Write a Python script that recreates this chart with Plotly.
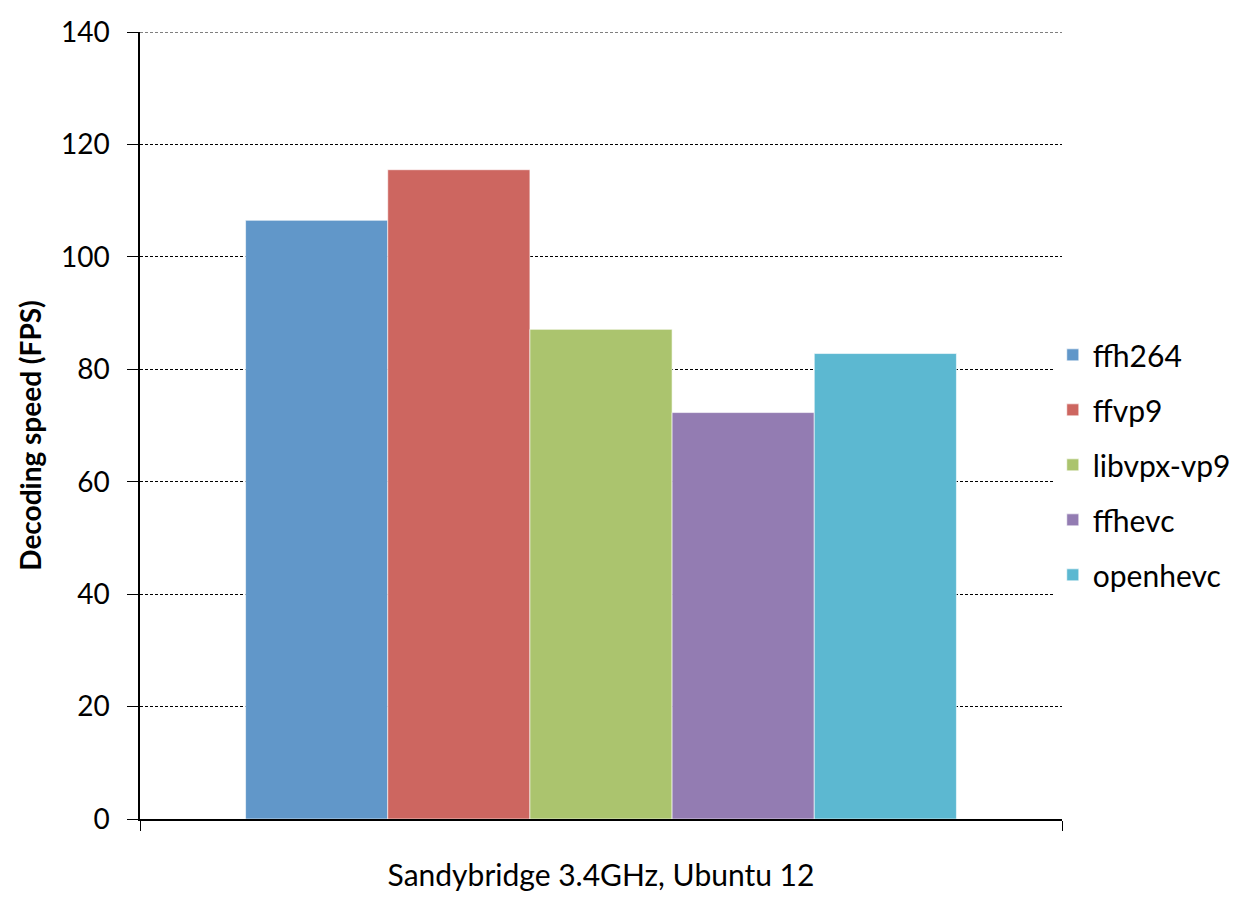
import plotly.graph_objects as go

# decoding speed per decoder, one machine
category = ["Sandybridge 3.4GHz, Ubuntu 12"]
decoders = ["ffh264", "ffvp9", "libvpx-vp9", "ffhevc", "openhevc"]
fps = [106.5, 115.5, 87.1, 72.3, 82.8]
colors = ["#6197C9", "#CD6660", "#ABC46E", "#937CB2", "#5CB8D1"]
y_max = 140

FONT = "Lato, 'Open Sans', sans-serif"

fig = go.Figure()
for name, val, col in zip(decoders, fps, colors):
    fig.add_trace(go.Bar(
        x=category, y=[val], name=name, legendgroup=name,
        marker=dict(color=col, line=dict(color="rgba(255,255,255,0.6)", width=1)),
    ))

# top gridline gets dropped at the plot edge, draw it by hand
fig.add_shape(type="line", xref="paper", x0=0, x1=1, yref="y", y0=y_max, y1=y_max,
              line=dict(color="black", width=1, dash="3px,2px"), layer="below")

fig.add_annotation(
    text="<b>Decoding speed (FPS)</b>", textangle=-90,
    xref="paper", x=0, xshift=-110, xanchor="center",
    yref="paper", y=0.487, yanchor="middle",
    showarrow=False, font=dict(size=28),
)

# page body adds 8px offset, so margins are shifted by that
fig.update_layout(
    width=1256, height=914,
    margin=dict(l=132, r=202, t=24, b=103, autoexpand=False),
    barmode="group", bargap=0.229, bargroupgap=0,
    plot_bgcolor="white", paper_bgcolor="white",
    font=dict(family=FONT, size=28, color="black"),
    legend=dict(x=0.99, xanchor="left", y=0.45, yanchor="middle",
                traceorder="grouped", tracegroupgap=13,
                font=dict(size=30)),
    showlegend=True,
)
fig.update_xaxes(
    automargin=False,
    showline=True, linecolor="black", linewidth=1.5,
    ticks="outside", ticklen=10, tickcolor="black", tickson="boundaries",
    tickfont=dict(size=30), ticklabelstandoff=29, showgrid=False,
)
fig.update_yaxes(
    automargin=False,
    range=[0, y_max], dtick=20,
    showline=True, linecolor="black", linewidth=1.5,
    ticks="outside", ticklen=11, tickcolor="black", ticklabelstandoff=12,
    showgrid=True, gridcolor="black", gridwidth=1, griddash="3px,2px",
    zeroline=False,
)
fig.write_html("out.html")
